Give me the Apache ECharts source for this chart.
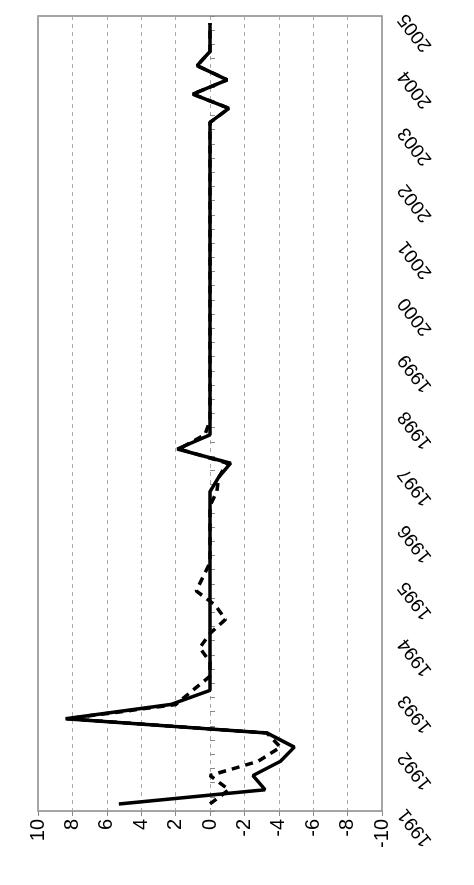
<!DOCTYPE html>
<html><head><meta charset="utf-8">
<script src="https://cdn.jsdelivr.net/npm/echarts@6/dist/echarts.min.js"></script>
<style>html,body{margin:0;padding:0;background:#fff}#c{width:474px;height:885px}</style>
</head><body><div id="c"></div>
<script>
// quarterly observations, 1991Q1 .. 2004Q4
const startYear = 1991;
const solidValues = [5.3,-3.2,-2.5,-4.1, -4.9,-3.3,8.4,2.3, 0,0,0,0, 0,0,0,0, 0,0,0,0, 0,0,0,-0.5, -1.2,1.9,0,0,
  0,0,0,0, 0,0,0,0, 0,0,0,0, 0,0,0,0, 0,0,0,0, 0,-1.1,1.0,-1.0, 0.75,0,0,0];
const dashedValues = [0,-1.1,0,-2.8, -4.1,-3.3,8.3,2.0, 1.0,0,0,0.6, 0,-0.9,-0.3,0.8, 0.4,0,0,0, 0,0,-0.4,-0.5, -1.0,1.8,0.3,0,
  0,0,0,0, 0,0,0,0, 0,0,0,0, 0,0,0,0, 0,0,0,0, 0,-1.1,1.0,-1.0, 0.75,0,0,0];
const yearTicks = [1991,1992,1993,1994,1995,1996,1997,1998,1999,2000,2001,2002,2003,2004,2005];
const valueTicks = [10,8,6,4,2,0,-2,-4,-6,-8,-10];

function pts(vals){ return vals.map((v,i)=>[v, startYear + (i+0.5)/4]); }

const chart = echarts.init(document.getElementById('c'));
chart.setOption({
  animation:false,
  grid:{left:38,right:92,top:16,bottom:74,show:true,borderColor:'#888',borderWidth:1.5},
  xAxis:{type:'value',inverse:true,min:-10,max:10,interval:2,
    axisLine:{show:false},axisTick:{show:true,length:5,lineStyle:{color:'#888'}},
    splitLine:{show:true,lineStyle:{color:'#aaa',type:[4,4]}},
    axisLabel:{rotate:90,fontSize:20,color:'#000',fontFamily:'Liberation Sans, Arial',margin:8}},
  yAxis:{type:'value',position:'right',min:1991,max:2005,interval:1,
    axisLine:{show:false},
    axisTick:{show:true,length:5,lineStyle:{color:'#888'}},
    minorTick:{show:true,splitNumber:4,length:5,lineStyle:{color:'#888'}},
    splitLine:{show:false},
    axisLabel:{rotate:128,fontSize:19,color:'#000',fontFamily:'Liberation Sans, Arial',margin:20,
      formatter:v=>yearTicks.includes(v)?String(v):''}},
  series:[
    {type:'line',data:pts(dashedValues),symbol:'none',lineStyle:{color:'#000',width:3.5,type:[8,6]}},
    {type:'line',data:pts(solidValues),symbol:'none',lineStyle:{color:'#000',width:3.5}}
  ]
});
</script></body></html>
